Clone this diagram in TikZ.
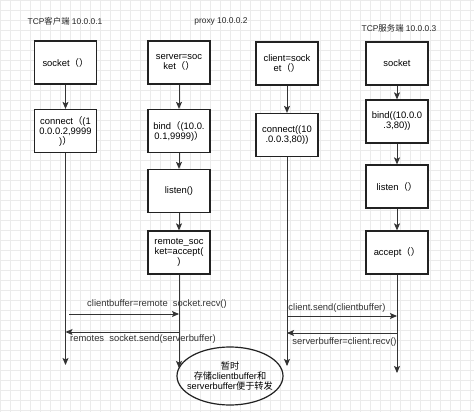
\documentclass[tikz,border=0pt]{standalone}
\usepackage{fontspec}
\setmainfont{Liberation Sans}
\newfontfamily\cjk{Noto Sans CJK SC}
\usetikzlibrary{arrows.meta,shapes.geometric}
\definecolor{linec}{HTML}{333333}
\definecolor{boxc}{HTML}{222222}
\begin{document}
\begin{tikzpicture}[x=1pt,y=-1pt,
  stepbox/.style={draw=boxc,line width=1.2pt,minimum width=62pt,minimum height=43pt,align=center,font=\fontsize{9.4}{10}\selectfont,inner sep=1pt,fill=white},
  lbl/.style={font=\fontsize{9.4}{10}\selectfont,text=linec,inner sep=0pt},
  ttl/.style={font=\fontsize{8.4}{10}\selectfont,text=black!85,inner sep=0pt},
  flow/.style={draw=linec,line width=0.9pt,-{Stealth[length=7pt,width=6pt,inset=1.5pt]}}]
\useasboundingbox (0,0) rectangle (474,412);
\fill[white] (0,0) rectangle (474,412);
\draw[black!8,line width=0.4pt] (0,0) grid[step=10pt] (474,412);
% titles
\node[ttl] (t1) at (65,21) {TCP{\cjk 客户端} 10.0.0.1};
\node[ttl] (t2) at (221,21) {proxy 10.0.0.2};
\node[ttl] (t3) at (399,28) {TCP{\cjk 服务端} 10.0.0.3};
% column 1
\node[stepbox] (s1) at (65.5,62.5) {socket{\cjk （）}};
\node[stepbox] (c1) at (65.5,131) {connect{\cjk （}(1\\0.0.0.2,9999\\){\cjk ）}};
% column 2
\node[stepbox] (s2) at (179,62.5) {server=soc\\ket{\cjk （）}};
\node[stepbox] (b2) at (179,131) {bind{\cjk （}(10.0.\\0.1,9999){\cjk ）}};
\node[stepbox] (l2) at (179,191) {listen()};
\node[stepbox] (r2) at (179,252.5) {remote\_soc\\ket=accept(\\)};
% column 3
\node[stepbox] (s3) at (287,63.5) {client=sock\\et{\cjk （）}};
\node[stepbox] (c3) at (287,135) {connect((10\\.0.0.3,80))};
% column 4
\node[stepbox] (s4) at (397,63.5) {socket};
\node[stepbox] (b4) at (397,121.5) {bind((10.0.0\\.3,80))};
\node[stepbox] (l4) at (397,186.5) {listen{\cjk （）}};
\node[stepbox] (a4) at (397,252.5) {accept{\cjk （）}};
% ellipse
\node[draw=boxc,line width=1.2pt,ellipse,minimum width=106pt,minimum height=58pt,inner xsep=-8pt,inner ysep=0pt,align=center,font=\fontsize{9.2}{10}\selectfont] (buf) at (230,376) {{\cjk 暂时}\\{\cjk 存储}clientbuffer{\cjk 和}\\serverbuffer{\cjk 便于转发}};
% end coordinates
\coordinate (e1) at (65.5,365);
\coordinate (e2) at (179,368);
\coordinate (e3) at (287,366);
\coordinate (e4) at (397,373);
\coordinate (h1s) at (69,314);
\coordinate (h1e) at (179,314);
\coordinate (h2s) at (179,332);
\coordinate (h2e) at (65.5,332);
\coordinate (h3s) at (287,316);
\coordinate (h3e) at (397,316);
\coordinate (h4s) at (397,333);
\coordinate (h4e) at (287,333);
% vertical flows
\draw[flow] (s1) -- (c1);
\draw[flow] (c1) -- (e1);
\draw[flow] (s2) -- (b2);
\draw[flow] (b2) -- (l2);
\draw[flow] (l2) -- (r2);
\draw[flow] (r2) -- (e2);
\draw[flow] (s3) -- (c3);
\draw[flow] (c3) -- (e3);
\draw[flow] (s4) -- (b4);
\draw[flow] (b4) -- (l4);
\draw[flow] (l4) -- (a4);
\draw[flow] (a4) -- (e4);
% horizontal flows
\draw[flow] (h1s) -- (h1e);
\draw[flow] (h2s) -- (h2e);
\draw[flow] (h3s) -- (h3e);
\draw[flow] (h4s) -- (h4e);
% labels
\node[lbl] (m1) at (157,304) {clientbuffer=remote\hspace{0.55em}socket.recv()};
\node[lbl] (m2) at (143,339) {remotes\hspace{0.55em}socket.send(serverbuffer)};
\node[lbl] (m3) at (337,308) {client.send(clientbuffer)};
\node[lbl] (m4) at (344.5,342) {serverbuffer=client.recv()};
\end{tikzpicture}
\end{document}
